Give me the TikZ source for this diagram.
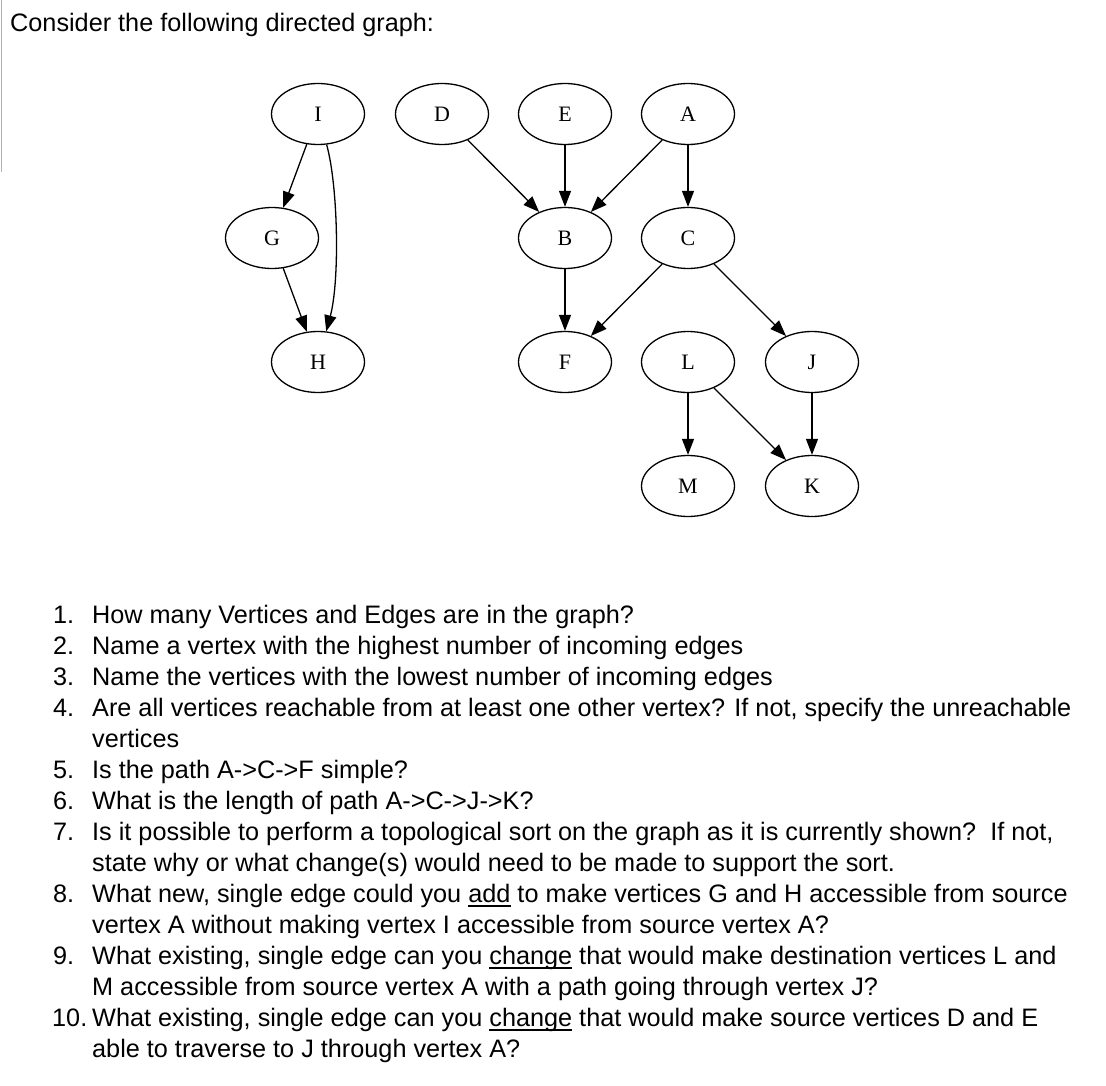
\documentclass[tikz,border=0pt]{standalone}
\usepackage{fontspec}
\setmainfont{Liberation Sans}
\newfontfamily\graphfont{Liberation Serif}
\usetikzlibrary{arrows.meta,shapes.geometric}
\newcommand\myul[1]{\setbox0\hbox{#1}\rlap{\rule[-4.5pt]{\wd0}{1.6pt}}#1}
\tikzset{
  vtx/.style={ellipse,draw,line width=1.3pt,minimum width=93pt,minimum height=61pt,inner sep=0pt,font=\graphfont\fontsize{22}{22}\selectfont},
  edge/.style={line width=1.3pt,-{Triangle[length=16pt,width=12pt]}},
  txt/.style={anchor=base west,inner sep=0pt,font=\fontsize{25.25}{31}\selectfont},
}
\begin{document}
\begin{tikzpicture}[x=1pt,y=-1pt]
\useasboundingbox (0,0) rectangle (1106,1086);
\draw[line width=1.5pt,color=black!30] (1.5,0) -- (1.5,172);
\node[txt] (title) at (10,32) {Consider the following directed graph:};
% nodes
\node[vtx] (I) at (318,114) {I};
\node[vtx] (D) at (442,114) {D};
\node[vtx] (E) at (565,114) {E};
\node[vtx] (A) at (688,114) {A};
\node[vtx] (G) at (272,238) {G};
\node[vtx] (B) at (565,238) {B};
\node[vtx] (C) at (688,238) {C};
\node[vtx] (H) at (318,362) {H};
\node[vtx] (F) at (565,362) {F};
\node[vtx] (L) at (688,362) {L};
\node[vtx] (J) at (812,362) {J};
\node[vtx] (M) at (688,486) {M};
\node[vtx] (K) at (812,486) {K};
% edges
\draw[edge] (I) -- (G);
\draw[edge] (I) .. controls (338,185) and (340,280) .. (H);
\draw[edge] (G) -- (H);
\draw[edge] (D) -- (B);
\draw[edge] (E) -- (B);
\draw[edge] (A) -- (B);
\draw[edge] (A) -- (C);
\draw[edge] (B) -- (F);
\draw[edge] (C) -- (F);
\draw[edge] (C) -- (J);
\draw[edge] (L) -- (M);
\draw[edge] (L) -- (K);
\draw[edge] (J) -- (K);
% questions
\node[txt] (n1) at (53,623) {1.};
\node[txt] (q1) at (92,623) {How many Vertices and Edges are in the graph?};
\node[txt] (n2) at (53,654) {2.};
\node[txt] (q2) at (92,654) {Name a vertex with the highest number of incoming edges};
\node[txt] (n3) at (53,685) {3.};
\node[txt] (q3) at (92,685) {Name the vertices with the lowest number of incoming edges};
\node[txt] (n4) at (53,716) {4.};
\node[txt] (q4) at (92,716) {Are all vertices reachable from at least one other vertex? If not, specify the unreachable};
\node[txt] (q4b) at (92,747) {vertices};
\node[txt] (n5) at (53,778) {5.};
\node[txt] (q5) at (92,778) {Is the path A->C->F simple?};
\node[txt] (n6) at (53,809) {6.};
\node[txt] (q6) at (92,809) {What is the length of path A->C->J->K?};
\node[txt] (n7) at (53,840) {7.};
\node[txt] (q7) at (92,840) {Is it possible to perform a topological sort on the graph as it is currently shown?\ \ If not,};
\node[txt] (q7b) at (92,871) {state why or what change(s) would need to be made to support the sort.};
\node[txt] (n8) at (53,902) {8.};
\node[txt] (q8) at (92,902) {What new, single edge could you \myul{add} to make vertices G and H accessible from source};
\node[txt] (q8b) at (92,933) {vertex A without making vertex I accessible from source vertex A?};
\node[txt] (n9) at (53,964) {9.};
\node[txt] (q9) at (92,964) {What existing, single edge can you \myul{change} that would make destination vertices L and};
\node[txt] (q9b) at (92,995) {M accessible from source vertex A with a path going through vertex J?};
\node[txt] (n10) at (52,1026) {10.};
\node[txt] (q10) at (92,1026) {What existing, single edge can you \myul{change} that would make source vertices D and E};
\node[txt] (q10b) at (92,1057) {able to traverse to J through vertex A?};
\end{tikzpicture}
\end{document}
